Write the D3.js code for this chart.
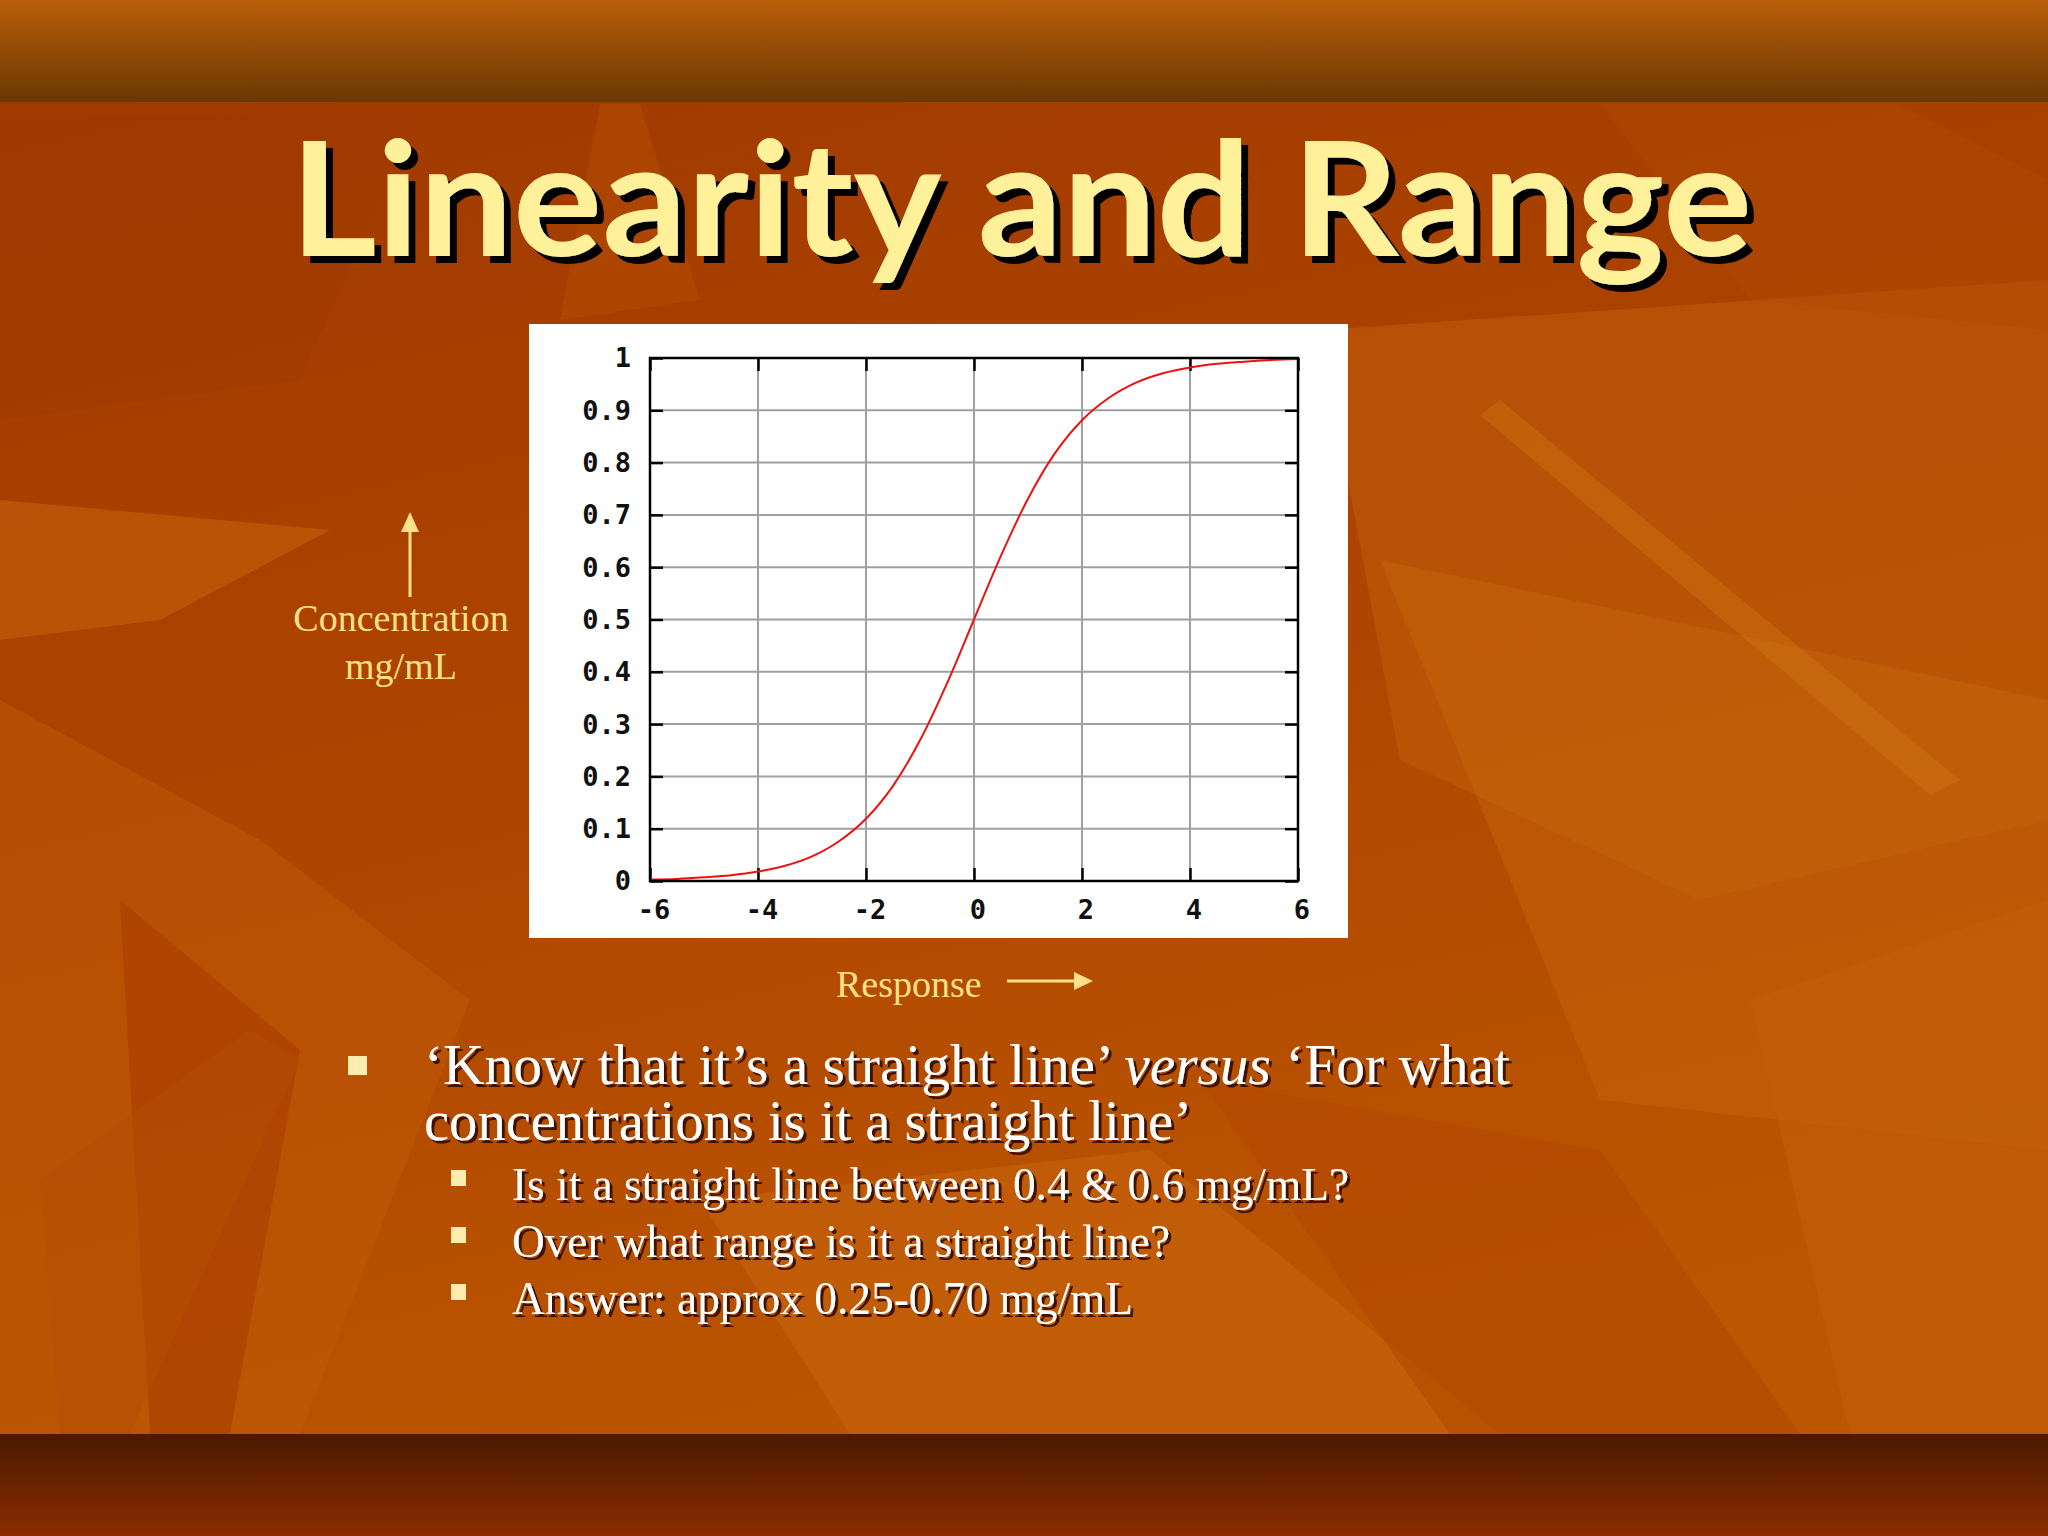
<!DOCTYPE html>
<html><head><meta charset="utf-8">
<script src="https://cdn.jsdelivr.net/npm/d3@7"></script>
<style>html,body{margin:0;padding:0;background:#a84200;}svg{display:block;}</style>
</head><body>
<svg id="c" width="2048" height="1536"></svg>
<script>
// ---- data ----
const titleText = "Linearity and Range";
const xTicks = [-6, -4, -2, 0, 2, 4, 6];
const xTickLabels = ["-6", "-4", "-2", "0", "2", "4", "6"];
const yTicks = [0, 0.1, 0.2, 0.3, 0.4, 0.5, 0.6, 0.7, 0.8, 0.9, 1];
const yTickLabels = ["0", "0.1", "0.2", "0.3", "0.4", "0.5", "0.6", "0.7", "0.8", "0.9", "1"];
const responseX = [-6, -5.5, -5, -4.5, -4, -3.5, -3, -2.5, -2, -1.5, -1, -0.5, 0, 0.5, 1, 1.5, 2, 2.5, 3, 3.5, 4, 4.5, 5, 5.5, 6];
const concentrationY = [0.003, 0.004, 0.007, 0.011, 0.018, 0.029, 0.047, 0.076, 0.119, 0.182, 0.269, 0.378, 0.5, 0.622, 0.731, 0.818, 0.881, 0.924, 0.953, 0.971, 0.982, 0.989, 0.993, 0.996, 0.998];
const yAxisLabel = ["Concentration", "mg/mL"];
const xAxisLabel = "Response";
const mainBullet = ["‘Know that it’s a straight line’ ", "versus", " ‘For what"];
const mainBullet2 = "concentrations is it a straight line’";
const subBullets = ["Is it a straight line between 0.4 & 0.6 mg/mL?", "Over what range is it a straight line?", "Answer: approx 0.25-0.70 mg/mL"];

const svg = d3.select("#c");
const defs = svg.append("defs");

// shadow filters
const f1 = defs.append("filter").attr("id", "titleShadow").attr("x", "-5%").attr("y", "-10%").attr("width", "115%").attr("height", "130%");
f1.append("feDropShadow").attr("dx", 7).attr("dy", 7).attr("stdDeviation", 0.5).attr("flood-color", "#000").attr("flood-opacity", 1);
const f2 = defs.append("filter").attr("id", "textShadow").attr("x", "-5%").attr("y", "-20%").attr("width", "115%").attr("height", "150%");
f2.append("feDropShadow").attr("dx", 3).attr("dy", 3).attr("stdDeviation", 0.6).attr("flood-color", "#3a1000").attr("flood-opacity", 0.95);

// ---- background ----
const bodyGrad = defs.append("linearGradient").attr("id", "bodyG").attr("x1", 0).attr("y1", 0).attr("x2", 0.3).attr("y2", 1);
bodyGrad.append("stop").attr("offset", 0).attr("stop-color", "#9e3800");
bodyGrad.append("stop").attr("offset", 0.5).attr("stop-color", "#ad4400");
bodyGrad.append("stop").attr("offset", 1).attr("stop-color", "#bc5600");
svg.append("rect").attr("x", 0).attr("y", 0).attr("width", 2048).attr("height", 1536).attr("fill", "url(#bodyG)");

const leaves = [
  {pts: [[1320,330],[2048,280],[2048,820],[1700,900],[1400,760]], c: "#c2600c", o: 0.5},
  {pts: [[1380,560],[2048,700],[2048,1150],[1600,1100]], c: "#c8690f", o: 0.4},
  {pts: [[1500,400],[1960,780],[1930,795],[1480,415]], c: "#d77a16", o: 0.35},
  {pts: [[0,500],[330,530],[160,620],[0,640]], c: "#c6640c", o: 0.55},
  {pts: [[0,700],[260,840],[470,1000],[300,1434],[0,1434]], c: "#c05a08", o: 0.5},
  {pts: [[120,900],[300,1050],[230,1434],[150,1434]], c: "#a83e00", o: 0.6},
  {pts: [[700,1200],[1150,1150],[1500,1434],[850,1434]], c: "#c8650d", o: 0.55},
  {pts: [[1200,1080],[1600,1150],[1800,1434],[1450,1434]], c: "#b24a02", o: 0.6},
  {pts: [[1750,1000],[2048,900],[2048,1434],[1850,1434]], c: "#c4600a", o: 0.5},
  {pts: [[0,120],[420,110],[300,380],[0,420]], c: "#a13a00", o: 0.4},
  {pts: [[600,104],[640,104],[700,300],[560,320]], c: "#b54e04", o: 0.5},
  {pts: [[1600,104],[1900,104],[2048,180],[2048,330],[1750,300]], c: "#b24c04", o: 0.45},
  {pts: [[40,1180],[250,1030],[300,1060],[130,1434],[60,1434]], c: "#b64e03", o: 0.5}
];
svg.append("g").selectAll("polygon").data(leaves).join("polygon")
  .attr("points", d => d.pts.map(p => p.join(",")).join(" "))
  .attr("fill", d => d.c).attr("opacity", d => d.o);

// top band
const topGrad = defs.append("linearGradient").attr("id", "topG").attr("x1", 0).attr("y1", 0).attr("x2", 0).attr("y2", 1);
topGrad.append("stop").attr("offset", 0).attr("stop-color", "#b95e0a");
topGrad.append("stop").attr("offset", 1).attr("stop-color", "#6a3804");
svg.append("rect").attr("x", 0).attr("y", 0).attr("width", 2048).attr("height", 102).attr("fill", "url(#topG)");
// bottom band
const botGrad = defs.append("linearGradient").attr("id", "botG").attr("x1", 0).attr("y1", 0).attr("x2", 0).attr("y2", 1);
botGrad.append("stop").attr("offset", 0).attr("stop-color", "#4a1a00");
botGrad.append("stop").attr("offset", 1).attr("stop-color", "#8c2c00");
svg.append("rect").attr("x", 0).attr("y", 1434).attr("width", 2048).attr("height", 102).attr("fill", "url(#botG)");

// ---- title ----
svg.append("text").attr("x", 290).attr("y", 256)
  .attr("textLength", 1462).attr("lengthAdjust", "spacingAndGlyphs")
  .style("font-family", "Lato, 'DejaVu Sans', sans-serif").style("font-weight", "bold").style("font-size", "160px")
  .attr("fill", "#fff09a").attr("filter", "url(#titleShadow)").text(titleText);

// ---- chart ----
svg.append("rect").attr("x", 529).attr("y", 324).attr("width", 819).attr("height", 614).attr("fill", "#fff");
const L = 650, R = 1298, T = 358, B = 881;
const x = d3.scaleLinear().domain([-6, 6]).range([L, R]);
const y = d3.scaleLinear().domain([0, 1]).range([B, T]);
const plot = svg.append("g");

// grid
plot.append("g").selectAll("line").data(xTicks.slice(1, -1)).join("line")
  .attr("x1", d => x(d)).attr("x2", d => x(d)).attr("y1", T).attr("y2", B)
  .attr("stroke", "#a0a0a0").attr("stroke-width", 2);
plot.append("g").selectAll("line").data(yTicks.slice(1, -1)).join("line")
  .attr("y1", d => y(d)).attr("y2", d => y(d)).attr("x1", L).attr("x2", R)
  .attr("stroke", "#a0a0a0").attr("stroke-width", 2);

// axes with inner ticks
const tickFont = "'DejaVu Sans Mono', monospace";
const axL = plot.append("g").attr("transform", `translate(${L},0)`)
  .call(d3.axisRight(y).tickValues(yTicks).tickSize(13).tickFormat(""));
const axR = plot.append("g").attr("transform", `translate(${R},0)`)
  .call(d3.axisLeft(y).tickValues(yTicks).tickSize(13).tickFormat(""));
const axB = plot.append("g").attr("transform", `translate(0,${B})`)
  .call(d3.axisTop(x).tickValues(xTicks).tickSize(13).tickFormat(""));
const axT = plot.append("g").attr("transform", `translate(0,${T})`)
  .call(d3.axisBottom(x).tickValues(xTicks).tickSize(13).tickFormat(""));
[axL, axR, axB, axT].forEach(a => { a.select(".domain").remove(); a.selectAll("line").attr("stroke", "#000").attr("stroke-width", 2.5); });

// tick labels
plot.append("g").selectAll("text").data(yTicks).join("text")
  .attr("x", 631).attr("y", d => y(d)).attr("dy", "0.35em")
  .attr("text-anchor", "end").style("font-family", tickFont).style("font-size", "27px").style("font-weight", "bold")
  .attr("fill", "#111").text((d, i) => yTickLabels[i]);
plot.append("g").selectAll("text").data(xTicks).join("text")
  .attr("x", d => x(d) + 4).attr("y", 919)
  .attr("text-anchor", "middle").style("font-family", tickFont).style("font-size", "27px").style("font-weight", "bold")
  .attr("fill", "#111").text((d, i) => xTickLabels[i]);

// curve
const pts = responseX.map((v, i) => [v, concentrationY[i]]);
plot.append("path").datum(pts)
  .attr("d", d3.line().x(d => x(d[0])).y(d => y(d[1])).curve(d3.curveMonotoneX))
  .attr("fill", "none").attr("stroke", "#ee1111").attr("stroke-width", 2);

// border
plot.append("rect").attr("x", L).attr("y", T).attr("width", R - L).attr("height", B - T)
  .attr("fill", "none").attr("stroke", "#000").attr("stroke-width", 2.5);

// ---- axis labels with arrows ----
const labelColor = "#ffe08a";
const serif = "'Liberation Serif', 'Times New Roman', serif";
svg.append("line").attr("x1", 410).attr("y1", 597).attr("x2", 410).attr("y2", 520)
  .attr("stroke", labelColor).attr("stroke-width", 3);
svg.append("path").attr("d", "M401,532 L410,512 L419,532 Z").attr("fill", labelColor);
svg.append("g").selectAll("text").data(yAxisLabel).join("text")
  .attr("x", 401).attr("y", (d, i) => 631 + i * 48)
  .attr("text-anchor", "middle").style("font-family", serif).style("font-size", "38px")
  .attr("fill", labelColor).text(d => d);
svg.append("text").attr("x", 836).attr("y", 997).style("font-family", serif).style("font-size", "38px")
  .attr("fill", labelColor).text(xAxisLabel);
svg.append("line").attr("x1", 1007).attr("y1", 981).attr("x2", 1080).attr("y2", 981)
  .attr("stroke", labelColor).attr("stroke-width", 3);
svg.append("path").attr("d", "M1074,972 L1093,981 L1074,990 Z").attr("fill", labelColor);

// ---- bullets ----
const bulletColor = "#ffedb0";
const txt = svg.append("g").style("font-family", serif).attr("fill", "#fff").attr("filter", "url(#textShadow)");
function line(xx, yy, size, len) {
  return txt.append("text").attr("x", xx).attr("y", yy).style("font-size", size + "px")
    .attr("textLength", len).attr("lengthAdjust", "spacingAndGlyphs");
}
svg.append("rect").attr("x", 348).attr("y", 1056).attr("width", 19).attr("height", 19).attr("fill", bulletColor);
const t1 = line(424, 1084, 56, 1086);
t1.append("tspan").text(mainBullet[0]);
t1.append("tspan").style("font-style", "italic").text(mainBullet[1]);
t1.append("tspan").text(mainBullet[2]);
line(424, 1140, 56, 768).text(mainBullet2);
const subY = [1200, 1257, 1314];
const subLen = [837, 658, 621];
subBullets.forEach((s, i) => {
  svg.append("rect").attr("x", 451).attr("y", subY[i] - 30).attr("width", 15).attr("height", 16).attr("fill", bulletColor);
  line(512, subY[i], 46, subLen[i]).text(s);
});
</script>
</body></html>
